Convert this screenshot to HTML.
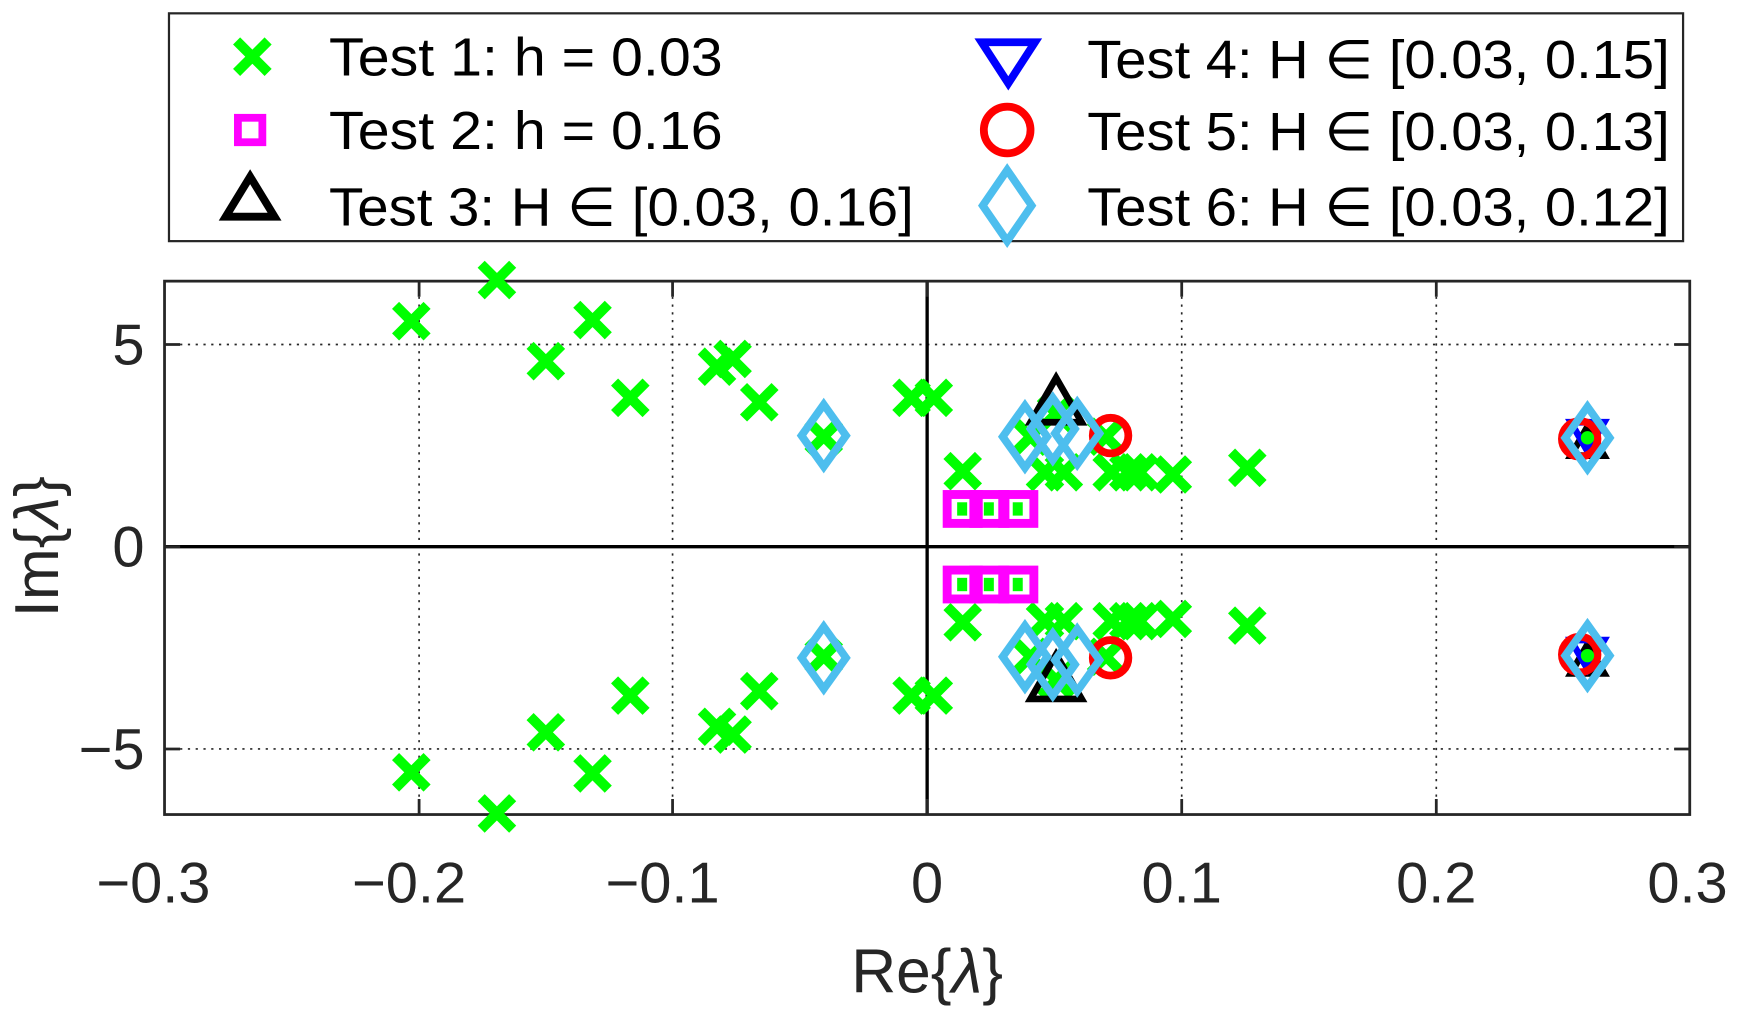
<!DOCTYPE html>
<html><head><style>html,body{margin:0;padding:0;background:#fff}svg{display:block}</style></head>
<body>
<svg width="1742" height="1019" viewBox="0 0 1567 917" preserveAspectRatio="none" xmlns="http://www.w3.org/2000/svg" font-family="Liberation Sans, DejaVu Sans, sans-serif">
<defs>
<g id="gx"><path d="M-11,-11L11,11M-11,11L11,-11" stroke="#00ff00" stroke-width="9" stroke-linecap="square"/></g>
<g id="sq"><rect x="-14" y="-13" width="28" height="26" fill="none" stroke="#ff00ff" stroke-width="8"/><rect x="-5" y="-6" width="9" height="12" fill="#00ff00"/></g>
<g id="tu"><path d="M0,-25L23,15L-23,15Z" fill="none" stroke="#000" stroke-width="6"/></g>
<g id="tus"><path d="M0,-16L15,10L-15,10Z" fill="none" stroke="#000" stroke-width="6"/></g>
<g id="td"><path d="M-15,-10L15,-10L0,16Z" fill="none" stroke="#0000ff" stroke-width="6"/></g>
<g id="ci"><circle r="16" fill="none" stroke="#ff0000" stroke-width="7"/></g>
<g id="di"><path d="M0,-28L20,0L0,28L-20,0Z" fill="none" stroke="#4dbeee" stroke-width="7"/></g>
<g id="mk">
<use href="#gx" x="370" y="289"/><use href="#gx" x="447" y="252"/><use href="#gx" x="533" y="288"/>
<use href="#gx" x="491" y="325"/><use href="#gx" x="567" y="358"/><use href="#gx" x="645" y="330"/>
<use href="#gx" x="659" y="323"/><use href="#gx" x="683" y="362"/><use href="#gx" x="741" y="393"/>
<use href="#gx" x="820" y="358"/><use href="#gx" x="840" y="358"/><use href="#gx" x="866" y="424"/>
<use href="#gx" x="940" y="425"/><use href="#gx" x="957" y="425"/><use href="#gx" x="1000" y="425"/>
<use href="#gx" x="1015" y="425"/><use href="#gx" x="1025" y="425"/><use href="#gx" x="1055" y="427"/>
<use href="#gx" x="1122" y="421"/><use href="#gx" x="927" y="393"/><use href="#gx" x="995" y="393"/>
<use href="#gx" x="950" y="372"/>
<use href="#sq" x="866" y="458"/><use href="#sq" x="890" y="458"/><use href="#sq" x="916" y="458"/>
</g>
</defs>
<rect x="152" y="12" width="1362" height="205" fill="#fff" stroke="#262626" stroke-width="2"/>
<g font-size="48" fill="#000">
<text x="296" y="68" textLength="354" lengthAdjust="spacingAndGlyphs">Test 1: h = 0.03</text>
<text x="296" y="134" textLength="354" lengthAdjust="spacingAndGlyphs">Test 2: h = 0.16</text>
<text x="296" y="203" textLength="526" lengthAdjust="spacingAndGlyphs">Test 3: H ∈ [0.03, 0.16]</text>
<text x="978" y="70" textLength="524" lengthAdjust="spacingAndGlyphs">Test 4: H ∈ [0.03, 0.15]</text>
<text x="978" y="135" textLength="524" lengthAdjust="spacingAndGlyphs">Test 5: H ∈ [0.03, 0.13]</text>
<text x="978" y="203" textLength="524" lengthAdjust="spacingAndGlyphs">Test 6: H ∈ [0.03, 0.12]</text>
</g>
<use href="#gx" x="227" y="51"/>
<rect x="214" y="106" width="22" height="22" fill="none" stroke="#ff00ff" stroke-width="7"/>
<path d="M225,159L247,195L203,195Z" fill="none" stroke="#000" stroke-width="7"/>
<path d="M883,38L931,38L907,75Z" fill="none" stroke="#0000ff" stroke-width="7"/>
<ellipse cx="906" cy="117" rx="21" ry="21" fill="none" stroke="#ff0000" stroke-width="7"/>
<path d="M906,153L928,185L906,217L884,185Z" fill="none" stroke="#4dbeee" stroke-width="7"/>
<rect x="148" y="253" width="1372" height="480" fill="#fff"/>
<g stroke="#262626" stroke-width="1.5" stroke-dasharray="2,5">
<line x1="377" y1="253" x2="377" y2="733"/><line x1="605" y1="253" x2="605" y2="733"/>
<line x1="1063" y1="253" x2="1063" y2="733"/><line x1="1292" y1="253" x2="1292" y2="733"/>
<line x1="148" y1="310" x2="1520" y2="310"/><line x1="148" y1="674" x2="1520" y2="674"/>
</g>
<line x1="834" y1="253" x2="834" y2="733" stroke="#000" stroke-width="3"/>
<line x1="148" y1="492" x2="1520" y2="492" stroke="#000" stroke-width="3"/>
<rect x="148" y="253" width="1372" height="480" fill="none" stroke="#262626" stroke-width="2.5"/>
<g stroke="#262626" stroke-width="2.5">
<path d="M377,733v-14M605,733v-14M834,733v-14M1063,733v-14M1292,733v-14M377,253v14M605,253v14M834,253v14M1063,253v14M1292,253v14"/>
<path d="M148,310h14M148,492h14M148,674h14M1520,310h-14M1520,492h-14M1520,674h-14"/>
</g>
<g font-size="52" fill="#262626" text-anchor="middle">
<text x="138" y="812">−0.3</text><text x="368" y="812">−0.2</text><text x="596" y="812">−0.1</text>
<text x="834" y="812">0</text><text x="1063" y="812">0.1</text><text x="1292" y="812">0.2</text><text x="1518" y="812">0.3</text>
<text x="834" y="893" font-size="56">Re{<tspan font-style="italic">λ</tspan>}</text>
</g>
<g font-size="52" fill="#262626" text-anchor="end">
<text x="130" y="328">5</text><text x="130" y="510">0</text><text x="130" y="692">−5</text>
</g>
<text transform="translate(52,492) rotate(-90)" font-size="56" fill="#262626" text-anchor="middle">Im{<tspan font-style="italic">λ</tspan>}</text>
<use href="#mk"/>
<use href="#mk" transform="translate(0,984) scale(1,-1)"/>
<use href="#tu" x="950" y="365"/><use href="#tu" x="950" y="614"/>
<use href="#tus" x="1428" y="400"/><use href="#td" x="1428" y="390"/>
<use href="#tus" x="1428" y="596"/><use href="#td" x="1428" y="586"/>
<use href="#ci" x="999" y="392"/><use href="#ci" x="1421" y="395"/>
<use href="#ci" x="999" y="592"/><use href="#ci" x="1421" y="589"/>
<use href="#di" x="741" y="392"/><use href="#di" x="922" y="393"/><use href="#di" x="947" y="386"/><use href="#di" x="969" y="390"/>
<use href="#di" x="741" y="592"/><use href="#di" x="922" y="591"/><use href="#di" x="947" y="598"/><use href="#di" x="969" y="594"/>
<use href="#di" x="1428" y="394"/><use href="#di" x="1428" y="590"/>
<circle cx="1428" cy="394" r="6" fill="#00ff00"/><circle cx="1428" cy="590" r="6" fill="#00ff00"/>
</svg>
</body></html>
